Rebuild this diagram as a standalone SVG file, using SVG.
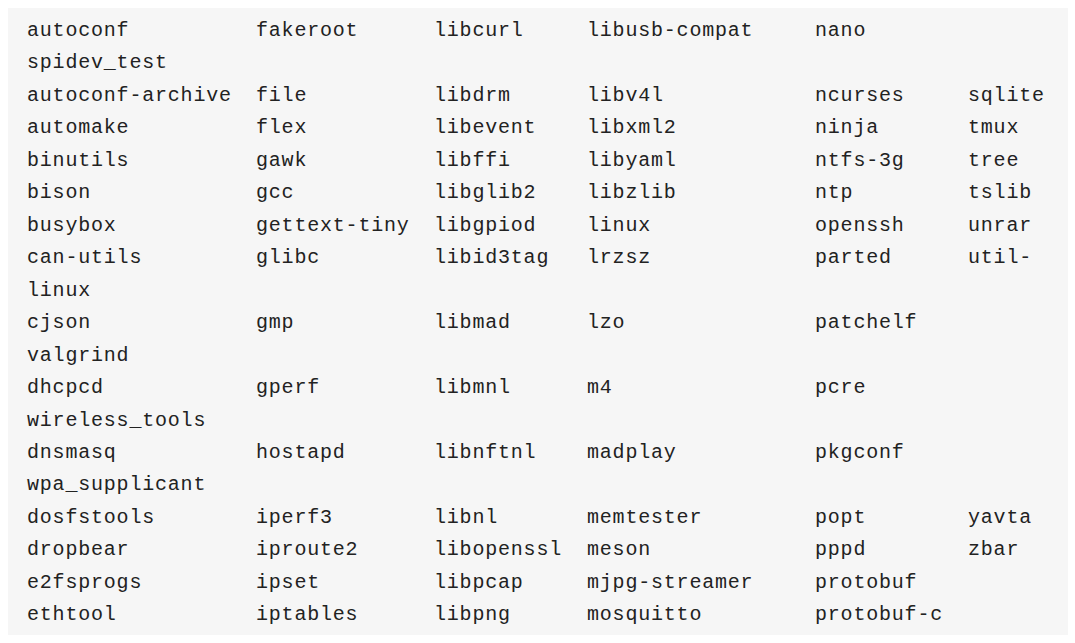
<svg xmlns="http://www.w3.org/2000/svg" width="1075" height="643" viewBox="0 0 1075 643">
<style>text{font-family:"Liberation Mono","DejaVu Sans Mono",monospace;font-size:20px;fill:#222;letter-spacing:0.8px}</style>
<rect width="1075" height="643" fill="#fff"/>
<rect x="8" y="8" width="1060" height="627" fill="#f6f6f6"/>
<g id="listing">
<text x="27" y="36">autoconf</text><text x="256" y="36">fakeroot</text><text x="434" y="36">libcurl</text><text x="587" y="36">libusb-compat</text><text x="815" y="36">nano</text>
<text x="27" y="68">spidev_test</text>
<text x="27" y="101">autoconf-archive</text><text x="256" y="101">file</text><text x="434" y="101">libdrm</text><text x="587" y="101">libv4l</text><text x="815" y="101">ncurses</text><text x="968" y="101">sqlite</text>
<text x="27" y="133">automake</text><text x="256" y="133">flex</text><text x="434" y="133">libevent</text><text x="587" y="133">libxml2</text><text x="815" y="133">ninja</text><text x="968" y="133">tmux</text>
<text x="27" y="166">binutils</text><text x="256" y="166">gawk</text><text x="434" y="166">libffi</text><text x="587" y="166">libyaml</text><text x="815" y="166">ntfs-3g</text><text x="968" y="166">tree</text>
<text x="27" y="198">bison</text><text x="256" y="198">gcc</text><text x="434" y="198">libglib2</text><text x="587" y="198">libzlib</text><text x="815" y="198">ntp</text><text x="968" y="198">tslib</text>
<text x="27" y="231">busybox</text><text x="256" y="231">gettext-tiny</text><text x="434" y="231">libgpiod</text><text x="587" y="231">linux</text><text x="815" y="231">openssh</text><text x="968" y="231">unrar</text>
<text x="27" y="263">can-utils</text><text x="256" y="263">glibc</text><text x="434" y="263">libid3tag</text><text x="587" y="263">lrzsz</text><text x="815" y="263">parted</text><text x="968" y="263">util-</text>
<text x="27" y="296">linux</text>
<text x="27" y="328">cjson</text><text x="256" y="328">gmp</text><text x="434" y="328">libmad</text><text x="587" y="328">lzo</text><text x="815" y="328">patchelf</text>
<text x="27" y="361">valgrind</text>
<text x="27" y="393">dhcpcd</text><text x="256" y="393">gperf</text><text x="434" y="393">libmnl</text><text x="587" y="393">m4</text><text x="815" y="393">pcre</text>
<text x="27" y="426">wireless_tools</text>
<text x="27" y="458">dnsmasq</text><text x="256" y="458">hostapd</text><text x="434" y="458">libnftnl</text><text x="587" y="458">madplay</text><text x="815" y="458">pkgconf</text>
<text x="27" y="490">wpa_supplicant</text>
<text x="27" y="523">dosfstools</text><text x="256" y="523">iperf3</text><text x="434" y="523">libnl</text><text x="587" y="523">memtester</text><text x="815" y="523">popt</text><text x="968" y="523">yavta</text>
<text x="27" y="555">dropbear</text><text x="256" y="555">iproute2</text><text x="434" y="555">libopenssl</text><text x="587" y="555">meson</text><text x="815" y="555">pppd</text><text x="968" y="555">zbar</text>
<text x="27" y="588">e2fsprogs</text><text x="256" y="588">ipset</text><text x="434" y="588">libpcap</text><text x="587" y="588">mjpg-streamer</text><text x="815" y="588">protobuf</text>
<text x="27" y="620">ethtool</text><text x="256" y="620">iptables</text><text x="434" y="620">libpng</text><text x="587" y="620">mosquitto</text><text x="815" y="620">protobuf-c</text>
</g>
</svg>
